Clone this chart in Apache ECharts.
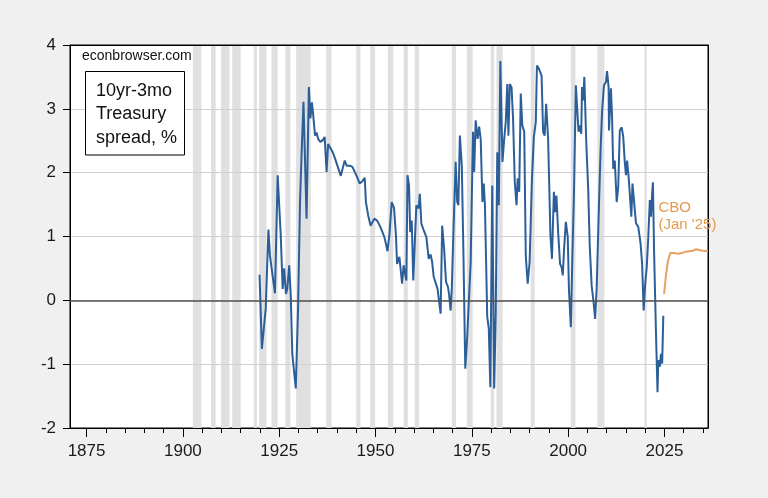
<!DOCTYPE html>
<html>
<head>
<meta charset="utf-8">
<title>10yr-3mo Treasury spread</title>
<script src="https://cdn.jsdelivr.net/npm/echarts@6/dist/echarts.min.js"></script>
<style>
  html, body { margin: 0; padding: 0; background: #f0f0f0; }
  #chart { width: 768px; height: 498px; }
</style>
</head>
<body>
<div id="chart"></div>
<script>
// spread series (decimal year / percent)
const spreadYears = [
  1919.9, 1920.5, 1921.5, 1922.2, 1922.6, 1923.5, 1923.9, 1924.6, 1925.4, 1925.9,
  1926.3, 1926.75, 1927.1, 1927.6, 1928.0, 1928.4, 1928.7, 1929.3, 1929.9, 1930.4,
  1930.8, 1931.3, 1932.1, 1932.7, 1933.1, 1933.5, 1933.8, 1934.3, 1934.7, 1935.1,
  1935.7, 1936.3, 1936.8, 1937.3, 1937.7, 1938.2, 1938.9, 1939.5, 1940.1, 1941.0,
  1941.45, 1942.0, 1942.5, 1943.3, 1944.0, 1944.7, 1945.3, 1945.9, 1946.5, 1947.2,
  1947.5, 1948.1, 1948.7, 1949.2, 1949.7, 1950.4, 1951.1, 1951.6, 1952.0, 1952.3,
  1952.8, 1953.1, 1953.6, 1954.2, 1954.8, 1955.3, 1955.6, 1956.2, 1956.6, 1956.9,
  1957.3, 1957.6, 1958.0, 1958.3, 1958.7, 1959.0, 1959.4, 1959.8, 1960.2, 1960.6,
  1961.2, 1961.5, 1961.9, 1962.5, 1963.2, 1963.8, 1964.3, 1964.7, 1965.1, 1965.6,
  1966.1, 1966.5, 1966.9, 1967.3, 1967.8, 1968.3, 1968.8, 1969.1, 1969.5, 1969.8,
  1970.2, 1970.8, 1971.2, 1971.5, 1971.9, 1972.4, 1972.8, 1973.3, 1973.8, 1974.2,
  1974.7, 1975.3, 1975.6, 1976.0, 1976.5, 1976.9, 1977.3, 1977.75, 1978.1, 1978.4,
  1979.0, 1979.4, 1979.8, 1980.3, 1980.8, 1981.2, 1981.6, 1982.0, 1982.4, 1982.95,
  1983.4, 1983.8, 1984.2, 1984.5, 1984.85, 1985.3, 1985.7, 1986.15, 1986.6, 1986.9,
  1987.3, 1987.7, 1988.1, 1988.6, 1989.0, 1989.5, 1990.0, 1990.6, 1991.1, 1991.6,
  1991.9, 1992.4, 1992.8, 1993.1, 1993.5, 1993.9, 1994.3, 1994.8, 1995.4, 1995.8,
  1996.3, 1996.6, 1996.95, 1997.4, 1997.9, 1998.3, 1998.6, 1998.95, 1999.4, 1999.9,
  2000.2, 2000.7, 2001.1, 2001.5, 2002.0, 2002.3, 2002.7, 2003.0, 2003.4, 2003.6,
  2003.9, 2004.2, 2004.7, 2005.2, 2005.6, 2006.1, 2006.6, 2007.0, 2007.4, 2007.9,
  2008.4, 2008.8, 2009.3, 2009.8, 2010.1, 2010.5, 2010.6, 2011.1, 2011.4, 2011.7,
  2012.1, 2012.6, 2013.0, 2013.4, 2013.9, 2014.3, 2014.7, 2015.0, 2015.3, 2015.7,
  2016.0, 2016.4, 2016.7, 2017.0, 2017.6, 2018.2, 2018.8, 2019.2, 2019.6, 2020.0,
  2020.4, 2020.8, 2021.2, 2021.5, 2021.8, 2022.0, 2022.3, 2022.8, 2023.2, 2023.4,
  2023.8, 2024.1, 2024.4, 2024.7
];
const spreadValues = [
  0.40, -0.76, -0.13, 1.11, 0.70, 0.29, 0.11, 1.96, 1.02, 0.18,
  0.50, 0.10, 0.18, 0.55, 0.08, -0.84, -0.86, -1.38, -0.13, 1.54,
  2.27, 3.11, 1.28, 3.34, 2.85, 3.10, 2.92, 2.58, 2.63, 2.53,
  2.48, 2.51, 2.56, 2.01, 2.45, 2.43, 2.32, 2.22, 2.11, 1.95,
  2.06, 2.19, 2.11, 2.11, 2.09, 2.00, 1.92, 1.83, 1.86, 1.92,
  1.54, 1.33, 1.17, 1.15, 1.28, 1.25, 1.17, 1.10, 1.12, 0.99,
  0.86, 0.77, 1.02, 1.54, 1.45, 1.02, 0.57, 0.68, 0.44, 0.26,
  0.55, 0.44, 0.31, 1.96, 1.80, 1.07, 1.25, 0.31, 0.91, 1.49,
  1.44, 1.67, 1.20, 1.10, 0.99, 0.65, 0.72, 0.60, 0.37, 0.34,
  0.18, 0.16, -0.21, 1.17, 0.81, 0.29, 0.21, 0.09, -0.16, 0.18,
  1.02, 2.17, 1.54, 1.49, 2.58, 2.10, 0.80, -1.07, -0.57, -0.60,
  0.60, 2.64, 2.01, 2.82, 2.53, 2.72, 2.53, 1.54, 1.83, 1.49,
  -0.26, -0.44, -1.36, 1.80, -1.38, -0.23, 2.32, 1.49, 3.75, 2.17,
  2.53, 2.79, 3.39, 2.58, 3.39, 3.34, 2.85, 1.85, 1.49, 1.91,
  1.70, 3.24, 2.74, 2.64, 0.70, 0.26, 0.60, 1.90, 2.56, 2.79,
  3.68, 3.63, 3.66, 3.52, 2.64, 2.58, 3.08, 2.53, 1.02, 0.65,
  1.70, 1.38, 1.64, 1.07, 0.57, 0.52, 0.39, 0.81, 1.23, 0.99,
  0.18, -0.42, 0.70, 1.64, 3.37, 3.37, 2.64, 2.74, 2.61, 3.34,
  3.13, 3.50, 2.48, 1.75, 0.86, 0.23, -0.03, -0.29, 0.18, 1.28,
  2.32, 2.95, 3.37, 3.42, 3.59, 3.34, 2.66, 3.32, 2.87, 2.06,
  2.19, 1.54, 1.78, 2.66, 2.71, 2.56, 2.17, 1.96, 2.19, 1.93,
  1.67, 1.31, 1.83, 1.62, 1.21, 1.15, 0.89, 0.57, -0.16, 0.26,
  0.52, 0.99, 1.57, 1.31, 1.67, 1.85, 0.78, -0.52, -1.44, -0.94,
  -1.04, -0.84, -0.99, -0.24
];

// CBO Jan '25 projection
const cboYears = [2024.9, 2025.4, 2025.9, 2026.5, 2027.5, 2028.5, 2029.5, 2030.5, 2031.5, 2032.5, 2033.3, 2034.5, 2036.3];
const cboValues = [0.10, 0.40, 0.62, 0.74, 0.74, 0.73, 0.74, 0.76, 0.77, 0.78, 0.80, 0.78, 0.77];

// recession shading [start, end]
const recessions = [
  [1902.6, 1904.8], [1907.3, 1908.5], [1909.9, 1912.1], [1912.8, 1915.0],
  [1918.4, 1919.2], [1919.8, 1921.7], [1923.0, 1924.6], [1926.6, 1927.9],
  [1929.4, 1933.2], [1937.2, 1938.6], [1945.0, 1946.1], [1948.6, 1949.9],
  [1953.2, 1954.6], [1957.3, 1958.4], [1960.2, 1961.3], [1969.8, 1970.9],
  [1973.7, 1975.2], [1979.9, 1980.8], [1981.4, 1983.0], [1990.3, 1991.3],
  [2000.7, 2001.9], [2007.6, 2009.4], [2019.8, 2020.4]
];

const majorTicks = [1875, 1900, 1925, 1950, 1975, 2000, 2025];
const minorTicks = [
  1875, 1880, 1885, 1890, 1895, 1900, 1905, 1910, 1915, 1920, 1925, 1930, 1935,
  1940, 1945, 1950, 1955, 1960, 1965, 1970, 1975, 1980, 1985, 1990, 1995, 2000,
  2005, 2010, 2015, 2020, 2025, 2030, 2035
];

const xMin = 1870.7;
const xMax = 2036.3;
const FONT = '"Liberation Sans", Arial, sans-serif';

const chart = echarts.init(document.getElementById("chart"));

const option = {
  animation: false,
  backgroundColor: "#f0f0f0",
  grid: {
    left: 70,
    right: 60,
    top: 45,
    bottom: 70,
    show: true,
    backgroundColor: "#ffffff",
    borderColor: "#000",
    borderWidth: 1
  },
  xAxis: [
    {
      type: "value",
      min: xMin,
      max: xMax,
      position: "bottom",
      z: 5,
      axisLine: { show: true, onZero: false, lineStyle: { color: "#000", width: 1 } },
      axisTick: { show: true, customValues: majorTicks, length: 9, lineStyle: { color: "#000" } },
      axisLabel: {
        customValues: majorTicks,
        formatter: v => String(v),
        fontSize: 17,
        fontFamily: FONT,
        color: "#1a1a1a",
        margin: 15
      },
      splitLine: { show: false }
    },
    {
      type: "value",
      min: xMin,
      max: xMax,
      position: "bottom",
      axisLine: { show: false, onZero: false },
      axisTick: { show: true, customValues: minorTicks, length: 5, lineStyle: { color: "#000" } },
      axisLabel: { show: false },
      splitLine: { show: false }
    },
    {
      type: "value",
      min: xMin,
      max: xMax,
      position: "top",
      z: 5,
      axisLine: { show: true, onZero: false, lineStyle: { color: "#000", width: 1 } },
      axisTick: { show: false },
      axisLabel: { show: false },
      splitLine: { show: false }
    }
  ],
  yAxis: [
    {
      type: "value",
      min: -2,
      max: 4,
      interval: 1,
      position: "left",
      z: 2,
      axisLine: { show: true, onZero: false, lineStyle: { color: "#000", width: 1 } },
      axisTick: { show: true, length: 7, lineStyle: { color: "#000" } },
      axisLabel: {
        fontSize: 17,
        fontFamily: FONT,
        color: "#1a1a1a",
        margin: 14
      },
      splitLine: { show: true, lineStyle: { color: "#d0d0d0", width: 1 } }
    },
    {
      type: "value",
      min: -2,
      max: 4,
      interval: 1,
      position: "right",
      z: 5,
      axisLine: { show: true, onZero: false, lineStyle: { color: "#000", width: 1 } },
      axisTick: { show: false },
      axisLabel: { show: false },
      splitLine: { show: false }
    }
  ],
  graphic: [
    {
      type: "text",
      x: 82,
      y: 56,
      z: 100,
      style: {
        text: "econbrowser.com",
        font: "14px " + FONT,
        fill: "#111",
        verticalAlign: "middle"
      }
    },
    {
      type: "rect",
      z: 100,
      shape: { x: 85.5, y: 71.5, width: 99, height: 83.5 },
      style: { fill: "#fff", stroke: "#000", lineWidth: 1 }
    },
    {
      type: "text",
      x: 96,
      y: 79,
      z: 101,
      style: {
        text: "10yr-3mo\nTreasury\nspread, %",
        font: "18px " + FONT,
        lineHeight: 23.5,
        fill: "#111",
        verticalAlign: "top"
      }
    },
    {
      type: "text",
      x: 658.5,
      y: 199,
      z: 100,
      style: {
        text: "CBO\n(Jan '25)",
        font: "15px " + FONT,
        lineHeight: 17,
        fill: "#e39a4f",
        verticalAlign: "top"
      }
    }
  ],
  series: [
    {
      name: "recessions",
      type: "line",
      data: [],
      z: 1,
      silent: true,
      markArea: {
        silent: true,
        itemStyle: { color: "#e0e0e0" },
        data: recessions.map(r => [{ xAxis: r[0] }, { xAxis: r[1] }])
      }
    },
    {
      name: "zero",
      type: "line",
      data: [],
      z: 3,
      silent: true,
      markLine: {
        silent: true,
        symbol: "none",
        label: { show: false },
        lineStyle: { color: "#505050", width: 1.5, type: "solid" },
        data: [{ yAxis: 0 }]
      }
    },
    {
      name: "spread",
      type: "line",
      z: 4,
      showSymbol: false,
      symbol: "none",
      lineStyle: { color: "#2c5f99", width: 2 },
      data: spreadYears.map((y, i) => [y, spreadValues[i]])
    },
    {
      name: "CBO",
      type: "line",
      z: 4,
      showSymbol: false,
      symbol: "none",
      lineStyle: { color: "#e8a164", width: 2 },
      data: cboYears.map((y, i) => [y, cboValues[i]])
    }
  ]
};

chart.setOption(option);
</script>
</body>
</html>
